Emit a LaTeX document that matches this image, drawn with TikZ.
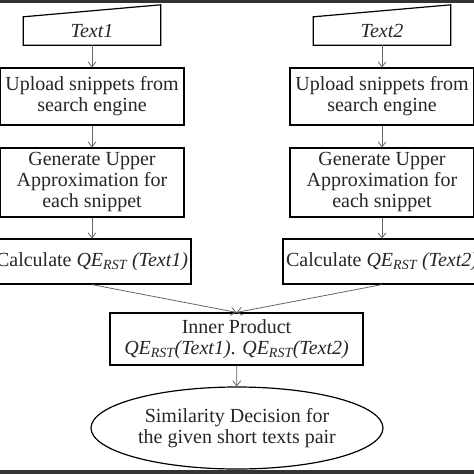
\documentclass[tikz,border=0pt]{standalone}
\usepackage{fontspec}
\setmainfont{Liberation Serif}
\usetikzlibrary{arrows,arrows.meta,shapes.geometric}
\newcommand{\QE}[2]{\textit{QE\textsubscript{RST}#1(#2)}}

\begin{document}
\begin{tikzpicture}[x=1pt,y=-1pt]

\tikzstyle{box}=[rectangle, draw, line width=1.2pt, font=\fontsize{20}{21}\selectfont, align=center, inner sep=0pt, text=black!85]
\tikzstyle{inbox}=[rectangle, minimum width=137pt, minimum height=28pt, font=\fontsize{20}{21}\selectfont\itshape, inner sep=0pt, text=black!85]
\tikzstyle{arrow}=[-{Straight Barb[length=5pt,width=8pt]}, draw=black!60, line width=0.8pt]

\useasboundingbox (0,0) rectangle (474,474);
\clip (0,0) rectangle (474,474);
\fill[black!80] (0,0) rectangle (474,3);
\fill[black!80] (0,470) rectangle (474,474);

% left column
\node (T1) [inbox] at (92,31) {Text1};
\draw [line width=1.2pt] (T1.south west) -- (T1.north west) -- ([yshift=12pt]T1.north east) -- (T1.south east) -- cycle;
\node (U1) [box, minimum width=184pt, minimum height=57pt] at (92,96.5) {Upload snippets from\\search engine};
\node (G1) [box, minimum width=184pt, minimum height=69pt] at (92,182.5) {Generate Upper\\Approximation for\\each snippet};
\node (C1) [box, minimum width=198pt, minimum height=45pt] at (92,261.5) {Calculate \QE{\ }{Text1}};

% right column
\node (T2) [inbox] at (382,31) {Text2};
\draw [line width=1.2pt] (T2.south west) -- (T2.north west) -- ([yshift=12pt]T2.north east) -- (T2.south east) -- cycle;
\node (U2) [box, minimum width=184pt, minimum height=57pt] at (382,96.5) {Upload snippets from\\search engine};
\node (G2) [box, minimum width=184pt, minimum height=69pt] at (382,182.5) {Generate Upper\\Approximation for\\each snippet};
\node (C2) [box, minimum width=198pt, minimum height=45pt] at (382,261.5) {Calculate \QE{\ }{Text2}};

% merge
\node (P) [box, minimum width=253pt, minimum height=52pt] at (236.5,339) {Inner Product\\\QE{}{Text1}. \QE{}{Text2}};
\node (D) [box, ellipse, minimum width=292pt, minimum height=82pt] at (237,428) {Similarity Decision for\\the given short texts pair};

\draw [arrow] (T1) -- (U1);
\draw [arrow] (U1) -- (G1);
\draw [arrow] (G1) -- (C1);
\draw [arrow] (T2) -- (U2);
\draw [arrow] (U2) -- (G2);
\draw [arrow] (G2) -- (C2);
\draw [arrow] (C1.south) -- (P.north);
\draw [arrow] (C2.south) -- (P.north);
\draw [arrow] (P) -- (D);

\end{tikzpicture}
\end{document}
